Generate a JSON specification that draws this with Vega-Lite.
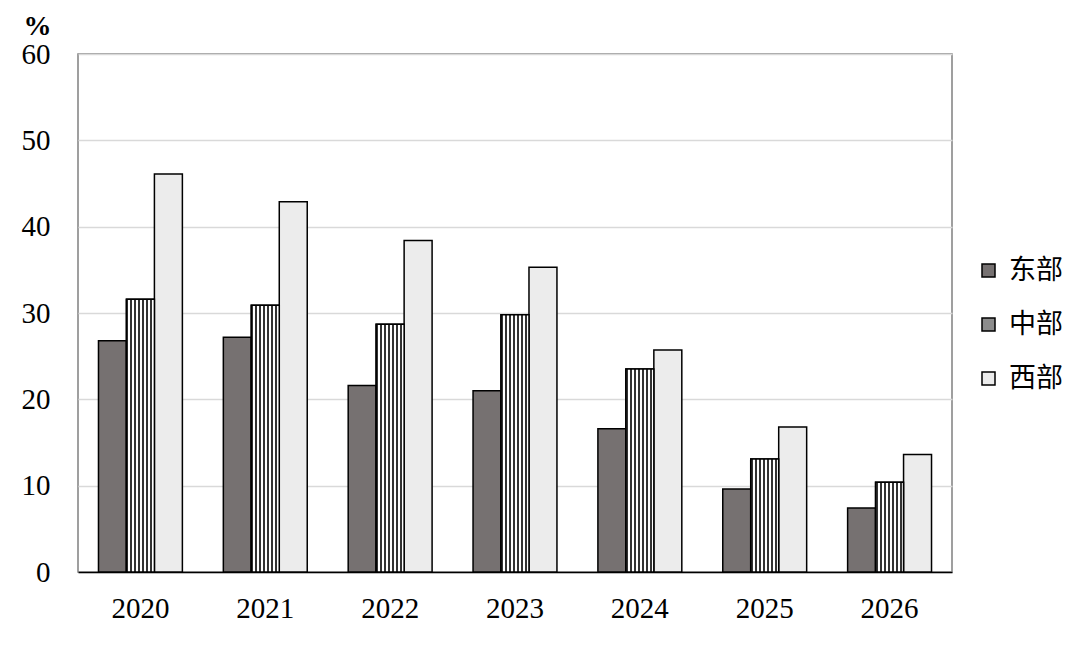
{
  "$schema": "https://vega.github.io/schema/vega-lite/v6.json",
  "width": 874,
  "height": 518,
  "autosize": {"type": "none"},
  "padding": {"left": 78, "top": 54, "right": 128, "bottom": 73},
  "background": "white",
  "config": {
    "view": {"stroke": "#808080", "strokeWidth": 1.5},
    "font": "Liberation Serif"
  },
  "data": {
    "values": [
      {"year": "2020", "region": "东部", "value": 26.8},
      {"year": "2020", "region": "中部", "value": 31.6},
      {"year": "2020", "region": "西部", "value": 46.1},
      {"year": "2021", "region": "东部", "value": 27.2},
      {"year": "2021", "region": "中部", "value": 30.9},
      {"year": "2021", "region": "西部", "value": 42.9},
      {"year": "2022", "region": "东部", "value": 21.6},
      {"year": "2022", "region": "中部", "value": 28.7},
      {"year": "2022", "region": "西部", "value": 38.4},
      {"year": "2023", "region": "东部", "value": 21.0},
      {"year": "2023", "region": "中部", "value": 29.8},
      {"year": "2023", "region": "西部", "value": 35.3},
      {"year": "2024", "region": "东部", "value": 16.6},
      {"year": "2024", "region": "中部", "value": 23.5},
      {"year": "2024", "region": "西部", "value": 25.7},
      {"year": "2025", "region": "东部", "value": 9.6},
      {"year": "2025", "region": "中部", "value": 13.1},
      {"year": "2025", "region": "西部", "value": 16.8},
      {"year": "2026", "region": "东部", "value": 7.4},
      {"year": "2026", "region": "中部", "value": 10.4},
      {"year": "2026", "region": "西部", "value": 13.6}
    ]
  },
  "encoding": {
    "x": {
      "field": "year", "type": "nominal",
      "scale": {"paddingInner": 0.328, "paddingOuter": 0.164},
      "axis": {
        "title": null, "labelAngle": 0, "ticks": false,
        "domainColor": "#000000", "domainWidth": 1.5,
        "labelFont": "Liberation Serif", "labelFontSize": 29, "labelColor": "#000000",
        "labelPadding": 22
      }
    },
    "xOffset": {"field": "region", "type": "nominal", "scale": {"domain": ["东部", "中部", "西部"]}},
    "y": {
      "field": "value", "type": "quantitative",
      "scale": {"domain": [0, 60]},
      "axis": {
        "values": [0, 10, 20, 30, 40, 50, 60],
        "ticks": false, "domain": false,
        "gridColor": "#d9d9d9", "gridWidth": 1.5,
        "labelFont": "Liberation Serif", "labelFontSize": 29, "labelColor": "#000000",
        "labelPadding": 28,
        "title": "%", "titleAngle": 0, "titleX": -41, "titleY": -20,
        "titleFont": "Liberation Serif", "titleFontSize": 28, "titleFontWeight": "bold",
        "titleColor": "#000000", "titleAlign": "center", "titleBaseline": "alphabetic"
      }
    }
  },
  "layer": [
    {
      "mark": {"type": "bar", "stroke": "#000000", "strokeWidth": 1.5},
      "encoding": {
        "fill": {
          "field": "region", "type": "nominal",
          "scale": {"domain": ["东部", "中部", "西部"], "range": ["#767171", "#8c8c8c", "#ececec"]},
          "legend": {
            "title": null, "orient": "none", "legendX": 897, "legendY": 203,
            "symbolType": "square", "symbolSize": 169, "symbolStrokeColor": "#000000",
            "symbolStrokeWidth": 1.5, "rowPadding": 26,
            "labelFont": "Noto Sans CJK SC", "labelFontSize": 27, "labelColor": "#000000",
            "labelOffset": 7
          }
        }
      }
    },
    {
      "transform": [{"filter": "datum.region === '中部'"}],
      "mark": {
        "type": "bar", "stroke": "#000000", "strokeWidth": 1.5,
        "fill": {
          "gradient": "linear", "x1": 0, "y1": 0, "x2": 1, "y2": 0,
          "stops": [
            {"offset": 0, "color": "#333333"}, {"offset": 0.0714, "color": "#333333"},
            {"offset": 0.0714, "color": "#ffffff"}, {"offset": 0.1429, "color": "#ffffff"},
            {"offset": 0.1429, "color": "#333333"}, {"offset": 0.2143, "color": "#333333"},
            {"offset": 0.2143, "color": "#ffffff"}, {"offset": 0.2857, "color": "#ffffff"},
            {"offset": 0.2857, "color": "#333333"}, {"offset": 0.3571, "color": "#333333"},
            {"offset": 0.3571, "color": "#ffffff"}, {"offset": 0.4286, "color": "#ffffff"},
            {"offset": 0.4286, "color": "#333333"}, {"offset": 0.5, "color": "#333333"},
            {"offset": 0.5, "color": "#ffffff"}, {"offset": 0.5714, "color": "#ffffff"},
            {"offset": 0.5714, "color": "#333333"}, {"offset": 0.6429, "color": "#333333"},
            {"offset": 0.6429, "color": "#ffffff"}, {"offset": 0.7143, "color": "#ffffff"},
            {"offset": 0.7143, "color": "#333333"}, {"offset": 0.7857, "color": "#333333"},
            {"offset": 0.7857, "color": "#ffffff"}, {"offset": 0.8571, "color": "#ffffff"},
            {"offset": 0.8571, "color": "#333333"}, {"offset": 0.9286, "color": "#333333"},
            {"offset": 0.9286, "color": "#ffffff"}, {"offset": 1, "color": "#ffffff"}
          ]
        }
      }
    }
  ]
}
